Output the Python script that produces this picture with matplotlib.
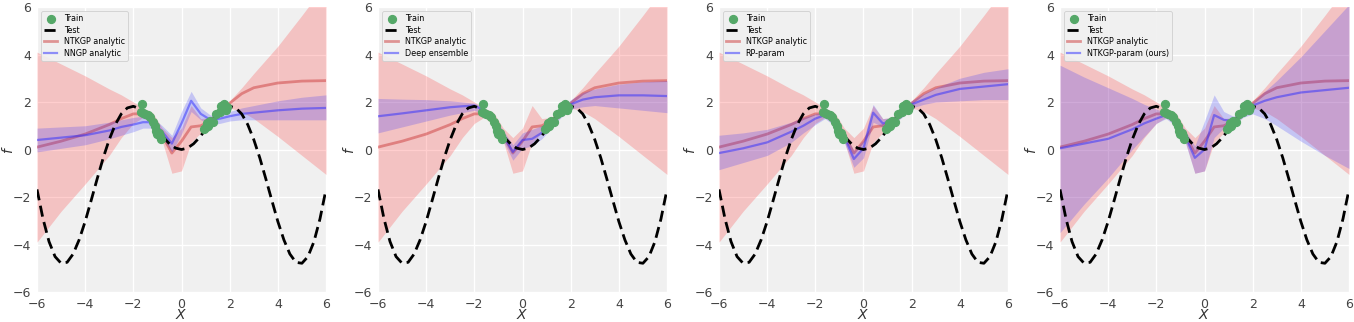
import matplotlib
matplotlib.use("Agg")
import matplotlib.pyplot as plt
import numpy as np

# ---- data ----
x_test = [-6.0, -5.75, -5.5, -5.25, -5.0, -4.75, -4.5, -4.25, -4.0, -3.75, -3.5, -3.25,
          -3.0, -2.75, -2.5, -2.25, -2.0, -1.75, -1.5, -1.25, -1.0, -0.75, -0.5, -0.25,
          0.0, 0.25, 0.5, 0.75, 1.0, 1.25, 1.5, 1.75, 2.0, 2.25, 2.5, 2.75, 3.0, 3.25,
          3.5, 3.75, 4.0, 4.25, 4.5, 4.75, 5.0, 5.25, 5.5, 5.75, 6.0]
y_test = [-1.68, -2.92, -3.88, -4.51, -4.79, -4.75, -4.40, -3.80, -3.03, -2.14, -1.23, -0.35,
          0.42, 1.05, 1.50, 1.75, 1.82, 1.72, 1.50, 1.19, 0.84, 0.51, 0.24, 0.06,
          0.0, 0.06, 0.24, 0.51, 0.84, 1.19, 1.50, 1.72, 1.82, 1.75, 1.50, 1.05, 0.42, -0.35,
          -1.23, -2.14, -3.03, -3.80, -4.40, -4.75, -4.79, -4.51, -3.88, -2.92, -1.68]

x_train = [-1.65, -1.7, -1.6, -1.5, -1.4, -1.3, -1.2, -1.1, -1.05, -1.0, -0.95, -0.9, -0.85,
           0.95, 1.0, 1.05, 1.1, 1.2, 1.3, 1.45, 1.6, 1.65, 1.75, 1.8, 1.85, 1.9]
y_train = [1.92, 1.6, 1.55, 1.5, 1.45, 1.35, 1.15, 1.0, 0.8, 0.65, 0.7, 0.55, 0.45,
           0.85, 0.95, 1.1, 1.0, 1.2, 1.15, 1.5, 1.6, 1.85, 1.9, 1.85, 1.65, 1.8]

x_grid = [-6, -5, -4, -3, -2.5, -2, -1.6, -1.2, -0.8, -0.4, 0, 0.4, 0.8, 1.2, 1.6, 2, 2.5, 3, 4, 5, 6]

ntk_mean = [0.1, 0.35, 0.65, 1.05, 1.3, 1.5, 1.5, 1.25, 0.6, -0.15, 0.35, 0.95, 1.0, 1.2, 1.6, 1.95, 2.35, 2.6, 2.8, 2.88, 2.9]
ntk_upper = [4.1, 3.6, 3.1, 2.55, 2.3, 2.0, 1.75, 1.55, 0.9, 0.5, 0.9, 1.85, 1.3, 1.35, 1.75, 2.05, 2.6, 3.2, 4.35, 5.65, 7.0]
ntk_lower = [-3.9, -2.6, -1.45, -0.25, 0.5, 1.1, 1.35, 1.05, 0.35, -1.0, -0.9, 0.3, 0.7, 1.0, 1.4, 1.75, 1.6, 1.3, 0.55, -0.25, -1.05]

nngp_mean = [0.4, 0.5, 0.6, 0.8, 0.95, 1.05, 1.15, 1.15, 0.75, 0.25, 1.1, 2.05, 1.5, 1.25, 1.3, 1.4, 1.5, 1.55, 1.65, 1.72, 1.75]
nngp_upper = [0.9, 0.95, 1.0, 1.15, 1.25, 1.35, 1.4, 1.35, 1.0, 0.6, 1.6, 2.45, 1.75, 1.45, 1.5, 1.6, 1.75, 1.85, 2.05, 2.2, 2.3]
nngp_lower = [-0.1, 0.05, 0.2, 0.45, 0.6, 0.75, 0.9, 0.9, 0.5, -0.1, 0.65, 1.6, 1.25, 1.05, 1.1, 1.2, 1.25, 1.25, 1.25, 1.25, 1.25]

ens_mean = [1.4, 1.52, 1.65, 1.78, 1.82, 1.85, 1.65, 1.2, 0.6, -0.1, 0.4, 0.45, 0.7, 1.1, 1.5, 1.9, 2.1, 2.2, 2.28, 2.28, 2.25]
ens_upper = [2.15, 2.12, 2.1, 2.05, 2.0, 1.95, 1.75, 1.35, 0.8, 0.2, 0.7, 0.85, 1.0, 1.3, 1.7, 2.1, 2.4, 2.55, 2.75, 2.85, 2.9]
ens_lower = [0.7, 0.95, 1.2, 1.45, 1.55, 1.65, 1.5, 1.05, 0.35, -0.45, 0.05, 0.15, 0.45, 0.9, 1.35, 1.7, 1.8, 1.85, 1.75, 1.65, 1.55]

rp_mean = [-0.15, 0.05, 0.3, 0.75, 1.0, 1.3, 1.45, 1.2, 0.55, -0.4, 0.05, 1.55, 1.1, 1.2, 1.5, 1.9, 2.1, 2.3, 2.55, 2.65, 2.75]
rp_upper = [0.6, 0.7, 0.85, 1.15, 1.35, 1.5, 1.6, 1.35, 0.75, -0.05, 0.4, 1.9, 1.3, 1.35, 1.7, 2.05, 2.35, 2.6, 3.0, 3.25, 3.4]
rp_lower = [-0.85, -0.55, -0.25, 0.3, 0.7, 1.05, 1.3, 1.0, 0.3, -0.75, -0.35, 1.15, 0.95, 1.05, 1.35, 1.75, 1.9, 2.0, 2.05, 2.1, 2.1]

ours_mean = [0.05, 0.25, 0.45, 0.85, 1.1, 1.3, 1.45, 1.2, 0.55, -0.35, 0.0, 1.45, 1.25, 1.2, 1.5, 1.85, 2.05, 2.2, 2.4, 2.5, 2.6]
ours_upper = [3.55, 3.05, 2.6, 2.15, 1.9, 1.7, 1.55, 1.4, 0.8, 0.15, 1.2, 2.3, 1.6, 1.4, 1.65, 2.0, 2.45, 2.9, 3.9, 5.0, 6.1]
ours_lower = [-3.5, -2.3, -1.2, 0.0, 0.55, 1.1, 1.3, 1.0, 0.3, -1.0, -0.9, 0.5, 0.9, 1.0, 1.35, 1.5, 1.3, 1.0, 0.35, -0.25, -0.8]

panels = [
    ("NNGP analytic", nngp_mean, nngp_upper, nngp_lower),
    ("Deep ensemble", ens_mean, ens_upper, ens_lower),
    ("RP-param", rp_mean, rp_upper, rp_lower),
    ("NTKGP-param (ours)", ours_mean, ours_upper, ours_lower),
]

BG = "#f0f0f0"
RED = "#ff2020"
BLUE = "#2b2bff"
GREEN = "#55a868"

fig = plt.figure(figsize=(13.54, 3.22), dpi=100, facecolor="white")
lefts = [37, 378, 719, 1060]

for left, (name, m, up, lo) in zip(lefts, panels):
    ax = fig.add_axes([left / 1354, 30 / 322, 289 / 1354, 285 / 322])
    ax.set_facecolor(BG)
    ax.grid(True, color="white", linewidth=1.0, zorder=0)
    ax.set_axisbelow(True)
    for s in ax.spines.values():
        s.set_visible(False)

    ax.scatter(x_train, y_train, s=32, color=GREEN, zorder=5, label="Train")
    ax.plot(x_test, y_test, color="black", linestyle="--", linewidth=2.0,
            dashes=(4, 2), zorder=4, label="Test")

    ax.fill_between(x_grid, ntk_lower, ntk_upper, color=RED, alpha=0.22, linewidth=0, zorder=1)
    ax.plot(x_grid, ntk_mean, color="#d04848", alpha=0.55, linewidth=2.0, zorder=2,
            label="NTKGP analytic")

    ax.fill_between(x_grid, lo, up, color=BLUE, alpha=0.22, linewidth=0, zorder=2)
    ax.plot(x_grid, m, color=BLUE, alpha=0.5, linewidth=1.6, zorder=3, label=name)

    ax.set_xlim(-6, 6)
    ax.set_ylim(-6, 6)
    ax.set_xticks([-6, -4, -2, 0, 2, 4, 6])
    ax.set_yticks([-6, -4, -2, 0, 2, 4, 6])
    ax.tick_params(length=0, labelsize=9, colors="#444444")
    ax.tick_params(axis="x", pad=4.5)
    ax.tick_params(axis="y", pad=4)
    ax.set_xlabel("$X$", fontsize=10, color="#333333", labelpad=-2)
    ax.set_ylabel("$f$", fontsize=10, color="#333333", labelpad=-2)

    handles, labels = ax.get_legend_handles_labels()
    order = [labels.index(l) for l in ["Train", "Test", "NTKGP analytic", name]]
    leg = ax.legend([handles[i] for i in order], [labels[i] for i in order],
                    loc="upper left", fontsize=5.8, frameon=True, facecolor=BG,
                    edgecolor="#cccccc", framealpha=0.9, borderpad=0.4,
                    labelspacing=0.3, handlelength=1.6, handletextpad=0.8,
                    markerscale=1.0)
    leg.get_frame().set_linewidth(0.6)

fig.savefig("out.png", dpi=100, facecolor="white")
